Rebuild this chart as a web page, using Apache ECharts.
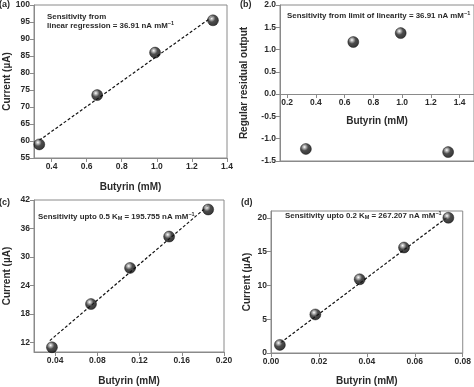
<!DOCTYPE html>
<html><head><meta charset="utf-8">
<script src="https://cdn.jsdelivr.net/npm/echarts@6/dist/echarts.min.js"></script>
<style>html,body{margin:0;padding:0;background:#fff}#c{width:474px;height:387px}</style>
</head><body><div id="c"></div>
<script>
// Panel (a)
const xA = [0.33, 0.66, 0.99, 1.32];
const yA = [59.0, 73.5, 86.0, 95.5];
const fitA = [[0.33, 60.2], [1.32, 96.7]];
const xTicksA = [0.4, 0.6, 0.8, 1.0, 1.2, 1.4];
const yTicksA = [55, 60, 65, 70, 75, 80, 85, 90, 95, 100];
// Panel (b)
const xB = [0.33, 0.66, 0.99, 1.32];
const yB = [-1.23, 1.17, 1.37, -1.30];
const xTicksB = [0.2, 0.4, 0.6, 0.8, 1.0, 1.2, 1.4];
const yTicksB = [-1.5, -1.0, -0.5, 0.0, 0.5, 1.0, 1.5, 2.0];
// Panel (c)
const xC = [0.037, 0.074, 0.111, 0.148, 0.185];
const yC = [11.0, 20.1, 27.7, 34.3, 40.0];
const fitC = [[0.035, 12.4], [0.186, 41.0]];
const xTicksC = [0.04, 0.08, 0.12, 0.16, 0.20];
const yTicksC = [12, 18, 24, 30, 36, 42];
// Panel (d)
const xD = [0.0037, 0.0185, 0.037, 0.0555, 0.074];
const yD = [1.2, 5.7, 10.9, 15.6, 20.0];
const fitD = [[0.004, 1.5], [0.074, 20.2]];
const xTicksD = [0.00, 0.02, 0.04, 0.06, 0.08];
const yTicksD = [0, 5, 10, 15, 20];

const FONT = 'Liberation Sans, Arial, sans-serif';
const AX = '#8a8a8a';
const TXT = '#2a2a2a';

function ball() {
  return {type:'radial', x:0.38, y:0.33, r:0.72,
    colorStops:[{offset:0,color:'#ffffff'},{offset:0.15,color:'#b0b0b0'},{offset:0.45,color:'#202020'},{offset:1,color:'#000'}]};
}
function axis(idx, min, max, ticks, digits, name, gap) {
  return {
    type:'value', gridIndex:idx, min:min, max:max,
    name:name, nameLocation:'middle', nameGap:gap,
    nameTextStyle:{fontFamily:FONT, fontWeight:'bold', fontSize:10, color:TXT},
    axisLine:{show:true, onZero:false, lineStyle:{color:AX, width:1}},
    axisTick:{show:true, inside:false, length:4, customValues:ticks, lineStyle:{color:AX}},
    axisLabel:{customValues:ticks, fontFamily:FONT, fontWeight:'bold', fontSize:8.5, color:TXT, margin:4,
      formatter:v => Number(v).toFixed(digits)},
    splitLine:{show:false}
  };
}
function pts(xs, ys) { return xs.map((x,i)=>[x, ys[i]]); }

// (b) zero line position: 0 sits at 2.0/3.5 of the plot height
const gB = {left:280, top:5, width:196, height:156};
const gB0 = {left:280, top:5, width:196, height:Math.round(156*2.0/3.5)};

const grids = [
  {left:34, top:5, width:193, height:153},
  gB,
  {left:34, top:200, width:190, height:158},
  {left:271, top:211, width:194, height:148}
].map(g => Object.assign(g, {show:true, borderColor:AX, borderWidth:1}));
grids.push(Object.assign(gB0, {show:false}));

const xAxes = [
  axis(0,0.3,1.4,xTicksA,1,'Butyrin (mM)',24),
  axis(1,0.15,1.5,xTicksB,1,'',23),
  axis(2,0.02,0.2,xTicksC,2,'Butyrin (mM)',24),
  axis(3,0,0.08,xTicksD,2,'Butyrin (mM)',23),
  axis(4,0.15,1.5,xTicksB,1,'Butyrin (mM)',22)
];
xAxes[1].axisLabel.show = false; xAxes[1].axisTick.show = false;
const yAxes = [
  axis(0,55,100,yTicksA,0,'Current (\u00b5A)',20),
  axis(1,-1.5,2.0,yTicksB,1,'Regular residual output',31),
  axis(2,10,42,yTicksC,0,'Current (\u00b5A)',22),
  axis(3,0,21,yTicksD,0,'Current (\u00b5A)',19),
  Object.assign(axis(4,0,1,[],0,'',0), {show:false})
];

function scatter(i, data) {
  return {type:'scatter', xAxisIndex:i, yAxisIndex:i, data:data, symbolSize:11, z:5,
    itemStyle:{color:ball(), borderColor:'#000', borderWidth:0.5}};
}
function fit(i, data) {
  return {type:'line', xAxisIndex:i, yAxisIndex:i, data:data, symbol:'none', z:3,
    lineStyle:{color:'#111', width:1.2, type:[3,2]}};
}
const sub = {fontSize:5.5, fontFamily:FONT, fontWeight:'bold', fill:TXT};
function note(x, y, rich) {
  return {type:'text', left:x, top:y, z:10, style:{text:rich, font:'bold 7.9px '+FONT, fill:TXT, lineHeight:9,
    rich:{sup:Object.assign({padding:[0,0,5,0]}, sub), sb:Object.assign({padding:[4,0,0,0]}, sub)}}};
}
function label(x, y, t) {
  return {type:'text', left:x, top:y, style:{text:t, font:'bold 9px '+FONT, fill:TXT}};
}

const chart = echarts.init(document.getElementById('c'), null, {renderer:'canvas'});
chart.setOption({
  animation:false,
  grid:grids, xAxis:xAxes, yAxis:yAxes,
  series:[
    fit(0, fitA), scatter(0, pts(xA,yA)),
    scatter(1, pts(xB,yB)),
    fit(2, fitC), scatter(2, pts(xC,yC)),
    fit(3, fitD), scatter(3, pts(xD,yD))
  ],
  graphic:[
    label(-1, 0, '(a)'), label(240, 0, '(b)'), label(-1, 198, '(c)'), label(241, 198, '(d)'),
    note(47, 12, 'Sensitivity from\nlinear regression = 36.91 nA mM{sup|\u22121}'),
    note(287, 10, 'Sensitivity from limit of linearity = 36.91 nA mM{sup|\u22121}'),
    note(38, 211, 'Sensitivity upto 0.5 K{sb|M} = 195.755 nA mM{sup|\u22121}'),
    note(285, 210, 'Sensitivity upto 0.2 K{sb|M} = 267.207 nA mM{sup|\u22121}')
  ]
});
</script></body></html>
